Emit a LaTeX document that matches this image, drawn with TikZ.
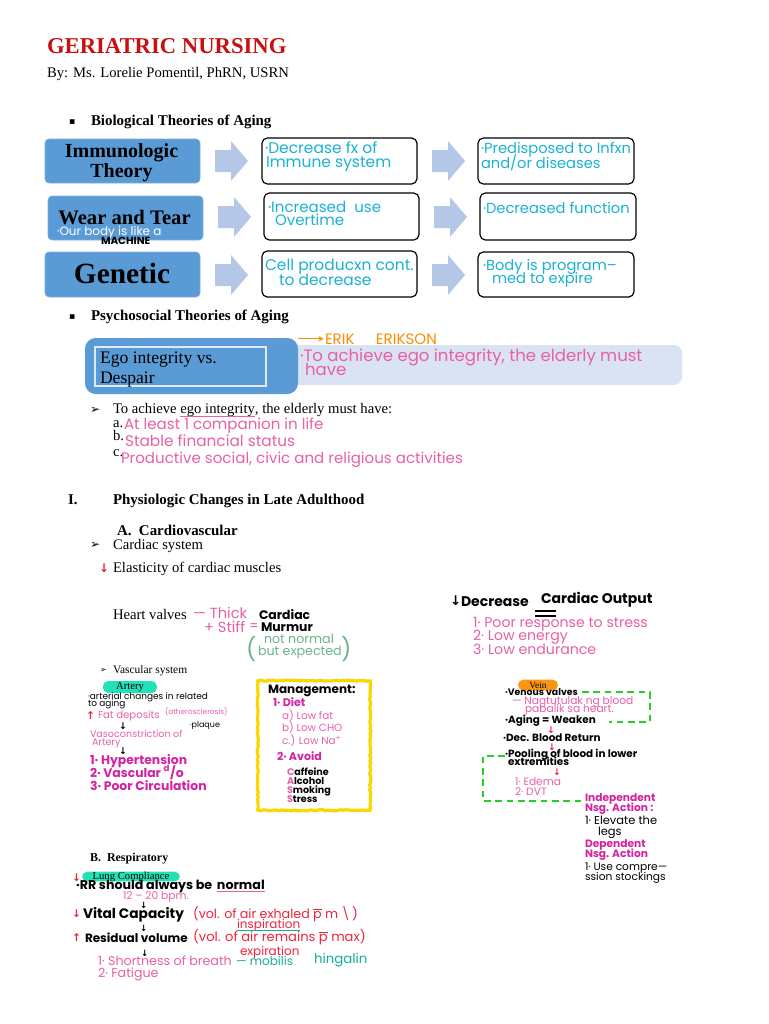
\documentclass[tikz,border=0pt]{standalone}
\usepackage{fontspec}
\setmainfont{Liberation Serif}
\newfontfamily\hwf{Poppins}
\newfontfamily\symf{DejaVu Sans}
\usetikzlibrary{arrows.meta,decorations.pathmorphing}
\definecolor{titred}{RGB}{200,16,16}
\definecolor{boxblue}{RGB}{91,155,213}
\definecolor{arrblue}{RGB}{180,199,231}
\definecolor{cyanw}{RGB}{25,178,210}
\definecolor{pinkw}{RGB}{232,96,165}
\definecolor{magw}{RGB}{210,35,160}
\definecolor{redw}{RGB}{240,35,60}
\definecolor{orw}{RGB}{255,140,0}
\definecolor{greenw}{RGB}{110,180,135}
\definecolor{tealpill}{RGB}{35,225,180}
\definecolor{tealw}{RGB}{20,175,150}
\definecolor{yelw}{RGB}{250,215,0}
\definecolor{dgreen}{RGB}{40,205,40}
\definecolor{lightbg}{RGB}{218,227,241}
\definecolor{orpill}{RGB}{250,150,20}
\newcommand\mypbar{\leavevmode\vbox{\hrule height 0.7pt\kern0.8pt\hbox{p}}}
\begin{document}
\begin{tikzpicture}[x=0.75pt,y=-0.75pt,
  tx/.style={anchor=base west,inner sep=0pt,outer sep=0pt},
  ser/.style={tx,font=\fontsize{11}{12}\selectfont},
  serb/.style={tx,font=\bfseries\fontsize{#1}{#1}\selectfont},
  hw/.style={tx,font=\hwf\fontsize{#1}{#1}\selectfont},
  hwb/.style={tx,font=\hwf\bfseries\fontsize{#1}{#1}\selectfont},
  sym/.style={tx,font=\symf\bfseries\fontsize{#1}{#1}\selectfont},
  bbox/.style={fill=boxblue,draw=boxblue!80!white,rounded corners=3pt,minimum width=116.25pt,minimum height=33pt,inner sep=0pt},
  wbox/.style={fill=white,draw=black,line width=0.9pt,rounded corners=4pt,minimum width=116.25pt,minimum height=34.5pt,inner sep=0pt},
  blk/.pic={\fill[arrblue] (0,-11) -- (16,-11) -- (16,-20) -- (33,0) -- (16,20) -- (16,11) -- (0,11) -- cycle;},
  dsh/.style={dgreen,line width=1.4pt,dash pattern=on 5pt off 3.5pt},
  pill/.style={rounded corners=4pt,inner sep=0pt,font=\fontsize{8}{8}\selectfont},
]
\useasboundingbox (0,0) rectangle (768,1024);
\fill[white] (0,0) rectangle (768,1024);

% ---- header
\node[serb=17,text=titred] (title) at (47,54) {GERIATRIC NURSING};
\node[tx,font=\fontsize{11}{12}\selectfont] (by) at (47,78) {By: Ms. Lorelie Pomentil, PhRN, USRN};
\node[sym=7] (bul1) at (69,124) {\mdseries ▪};
\node[serb=11.2] (bio) at (91,125) {Biological Theories of Aging};

% ---- biological boxes
\node[bbox] (r1) at (122.5,161) {};
\node[bbox] (r2) at (125.5,218) {};
\node[bbox,minimum height=33.75pt] (r3) at (122.5,274.5) {};
\node[anchor=base,inner sep=0pt,font=\bfseries\fontsize{15}{15}\selectfont] (imm1) at (121.5,157) {Immunologic};
\node[anchor=base,inner sep=0pt,font=\bfseries\fontsize{15}{15}\selectfont] (imm2) at (121.5,177) {Theory};
\node[anchor=base,inner sep=0pt,font=\bfseries\fontsize{15.5}{15}\selectfont] (wt) at (124.5,224) {Wear and Tear};
\node[hw=9,text=white] (ob) at (57,235) {·Our body is like a};
\node[hwb=7.8] (mach) at (101,244) {MACHINE};
\node[anchor=base,inner sep=0pt,font=\bfseries\fontsize{22}{22}\selectfont] (gen) at (122,283) {Genetic};

\node[wbox] (b12) at (339.5,161) {};
\node[wbox,minimum width=117pt] (b13) at (556,161) {};
\node[wbox,minimum height=35.25pt] (b22) at (341.5,216.5) {};
\node[wbox,minimum width=117pt,minimum height=35.25pt] (b23) at (558,216.5) {};
\node[wbox] (b32) at (339.5,274) {};
\node[wbox,minimum width=117pt,minimum height=33.75pt] (b33) at (556,274.5) {};

\pic (a11) at (215,161) {blk};
\pic (a12) at (432,161) {blk};
\pic (a21) at (218,217) {blk};
\pic (a22) at (434,217) {blk};
\pic (a31) at (215,275) {blk};
\pic (a32) at (432,275) {blk};

\node[hw=11.6,text=cyanw] (c121) at (265,153) {·Decrease fx of};
\node[hw=11.6,text=cyanw] (c122) at (266,167) {Immune system};
\node[hw=11,text=cyanw] (c131) at (481,153) {·Predisposed to Infxn};
\node[hw=11,text=cyanw] (c132) at (481,168) {and/or diseases};
\node[hw=11.3,text=cyanw] (c221) at (268,212) {·Increased\ \ use};
\node[hw=11.3,text=cyanw] (c222) at (275,225) {Overtime};
\node[hw=11,text=cyanw] (c231) at (483,213) {·Decreased function};
\node[hw=11.6,text=cyanw] (c321) at (265,270) {Cell producxn cont.};
\node[hw=11.6,text=cyanw] (c322) at (279,285) {to decrease};
\node[hw=11,text=cyanw] (c331) at (483,270) {·Body is program–};
\node[hw=11,text=cyanw] (c332) at (492,283) {med to expire};

% ---- psychosocial
\node[sym=7] (bul2) at (69,319) {\mdseries ▪};
\node[serb=11.2] (psy) at (91,320) {Psychosocial Theories of Aging};
\node[fill=lightbg,rounded corners=6pt,minimum width=297.75pt,minimum height=30pt,inner sep=0pt] (ebg) at (483.5,365) {};
\node[fill=boxblue,rounded corners=8pt,minimum width=159.75pt,minimum height=42pt,inner sep=0pt] (ego) at (191.5,366) {};
\node[draw=white!80!boxblue,line width=1.2pt,minimum width=128.25pt,minimum height=29.25pt,inner sep=0pt] (egoin) at (180.5,366.5) {};
\node[tx,font=\fontsize{13.2}{14}\selectfont] (ego1) at (100,363) {Ego integrity vs.};
\node[tx,font=\fontsize{13.2}{14}\selectfont] (ego2) at (100,383) {Despair};
\node[hw=12.4,text=pinkw] (egop1) at (300,361) {·To achieve ego integrity, the elderly must};
\node[hw=12.4,text=pinkw] (egop2) at (305,375) {have};
\node[hw=11.3,text=orw] (erik) at (325,344) {ERIK\hspace{16pt}ERIKSON};
\draw[orw,line width=1pt,-{Stealth[length=4pt,width=4pt]}] (ego.north east |- erik.west) -- ([xshift=-1pt]erik.west);

\node[tx,font=\symf\fontsize{9}{9}\selectfont] (arr1) at (90,413) {➢};
\node[ser] (ta1) at (113,413) {To achieve};
\node[ser] (ta2) at ([xshift=2.75pt]ta1.base east) {ego integrity};
\node[ser] (ta3) at (ta2.base east) {, the elderly must have:};
\draw[pinkw,line width=0.6pt] ([yshift=-2.5pt]ta2.base west) -- ([yshift=-2.5pt]ta2.base east);
\node[ser] (la) at (113,427) {a.};
\node[hw=11.3,text=pinkw] (pa) at (124,429) {At least 1 companion in life};
\node[ser] (lb) at (113,440) {b.};
\node[hw=11.5,text=pinkw] (pb) at (125,446) {Stable financial status};
\node[ser] (lc) at (113,456) {c.};
\node[hw=11.3,text=pinkw] (pc) at (121,463) {Productive social, civic and religious activities};

% ---- physiologic
\node[serb=11.2] (s1) at (68,504) {I.};
\node[serb=11.2] (s1t) at (113,504) {Physiologic Changes in Late Adulthood};
\node[serb=11.2] (sA) at (117,535) {A.\ \ Cardiovascular};
\node[tx,font=\symf\fontsize{9}{9}\selectfont] (arr2) at (90,548) {➢};
\node[ser] (cs) at (113,549) {Cardiac system};
\node[sym=9,text=redw] (dn1) at (99,572) {↓};
\node[ser] (el) at (113,572) {Elasticity of cardiac muscles};

\node[ser] (hv) at (113,619) {Heart valves};
\node[hw=11,text=pinkw] (thick) at (193,618) {— Thick};
\node[hw=11,text=pinkw] (stiff) at (204,632) {+ Stiff};
\node[hw=10,text=pinkw] (eq1) at (249,630) {=};
\node[hwb=9.3] (card) at (259,619) {Cardiac};
\node[hwb=9.3] (murm) at (261,631) {Murmur};
\node[hw=17,text=greenw] (pl) at (246,657) {(};
\node[hw=9.5,text=greenw] (nn) at (264,643) {not normal};
\node[hw=9.5,text=greenw] (be) at (258,655) {but expected};
\node[hw=17,text=greenw] (pr) at (341,657) {)};

\node[sym=10] (dn2) at (450,605) {↓};
\node[hwb=10.5] (dec) at (461,606) {Decrease};
\node[hwb=10.5] (co) at (541,603) {Cardiac Output};
\draw[line width=1.3pt] (535,611) -- (556,611) (535,616) -- (556,616);
\node[hw=10.6,text=pinkw] (co1) at (473,627) {1· Poor response to stress};
\node[hw=10.6,text=pinkw] (co2) at (473,640) {2· Low energy};
\node[hw=10.6,text=pinkw] (co3) at (473,654) {3· Low endurance};

% ---- vascular / artery
\node[tx,font=\symf\fontsize{6}{6}\selectfont] (arr3) at (100,672) {➢};
\node[tx,font=\fontsize{8.6}{9}\selectfont] (vs) at (113,673) {Vascular system};
\node[pill,fill=tealpill,minimum width=40.5pt,minimum height=9pt] (artp) at (130,687) {Artery};
\node[hw=6.7] (ac1) at (88,699) {·arterial changes in related};
\node[hw=6.7] (ac2) at (88,706) {to aging};
\node[sym=8,text=redw] (up1) at (86,719) {↑};
\node[hw=7.6,text=pinkw] (fd) at (98,718) {Fat deposits};
\node[hw=5.5,text=pinkw] (ath) at (165,714) {(atherosclerosis)};
\node[hw=6] (plq) at (190,727) {·plaque};
\node[sym=7] (dn3) at (119,729) {↓};
\node[hw=7.2,text=pinkw] (vc1) at (90,737) {Vasoconstriction of};
\node[hw=7.2,text=pinkw] (vc2) at (92,745) {Artery};
\node[sym=7] (dn4) at (119,754) {↓};
\node[hwb=9.3,text=magw] (h1) at (90,764) {1· Hypertension};
\node[hwb=9.3,text=magw] (h2) at (90,777) {2· Vascular \textsuperscript{d}/o};
\node[hwb=9.3,text=magw] (h3) at (90,790) {3· Poor Circulation};

% ---- management
\node[minimum width=84pt,minimum height=96.75pt,inner sep=0pt] (mg) at (314,745.5) {};
\draw[yelw,line width=2.4pt,line join=round,decorate,decoration={random steps,segment length=2pt,amplitude=0.45pt}] (mg.north west) -- (mg.north east) -- (mg.south east) -- (mg.south west) -- cycle;
\node[hwb=9] (mgt) at (268,693) {Management:};
\node[hwb=8.3,text=magw] (m1) at (273,706) {1· Diet};
\node[hw=7.8,text=pinkw] (m1a) at (282,719) {a) Low fat};
\node[hw=7.8,text=pinkw] (m1b) at (282,731) {b) Low CHO};
\node[hw=7.8,text=pinkw] (m1c) at (282,744) {c.) Low Na\textsuperscript{+}};
\node[hwb=8.3,text=magw] (m2) at (277,760) {2· Avoid};
\node[hwb=7.2] (ca1) at (287,775) {{\color{pinkw}C}affeine};
\node[hwb=7.2] (ca2) at (287,784) {{\color{pinkw}A}lcohol};
\node[hwb=7.2] (ca3) at (287,793) {{\color{pinkw}S}moking};
\node[hwb=7.2] (ca4) at (287,802) {{\color{pinkw}S}tress};

% ---- vein
\node[pill,fill=orpill,minimum width=30pt,minimum height=8pt,font=\fontsize{7}{7}\selectfont] (vp) at (538,685) {Vein};
\node[hwb=7] (v1) at (505,695.5) {·Venous valves};
\node[hw=8,text=pinkw] (v2) at (512,704) {— Nagtutulak ng blood};
\node[hw=8,text=pinkw] (v3) at (525,712) {pabalik sa heart.};
\node[hwb=7.8] (v4) at (505,723) {·Aging = Weaken};
\node[sym=7,text=redw] (dn5) at (547,733) {↓};
\node[hwb=7.8] (v5) at (503,741) {·Dec. Blood Return};
\node[sym=7,text=redw] (dn6) at (548,750) {↓};
\node[hwb=7.8] (v6) at (505,757) {·Pooling of blood in lower};
\node[hwb=7.8] (v7) at (508,765.5) {extremities};
\node[sym=7,text=redw] (dn7) at (553,775) {↓};
\node[hw=8,text=pinkw] (v8) at (515,785) {1· Edema};
\node[hw=8,text=pinkw] (v9) at (515,795) {2· DVT};
\draw[dsh] (582,692) -- (650,692) -- (650,722) -- (609,722);
\draw[dsh] (505,756) -- (483,756) -- (483,801) -- (582,801);
\node[hwb=8,text=magw] (in1) at (585,801) {Independent};
\node[hwb=8,text=magw] (in2) at (585,811) {Nsg. Action :};
\node[hw=8.6] (in3) at (585,824) {1· Elevate the};
\node[hw=8.6] (in4) at (598,835) {legs};
\node[hwb=8,text=magw] (de1) at (585,847) {Dependent};
\node[hwb=8,text=magw] (de2) at (585,857) {Nsg. Action};
\node[hw=8] (de3) at (585,870) {1· Use compre—};
\node[hw=8] (de4) at (585,880) {ssion stockings};

% ---- respiratory
\node[serb=9] (sB) at (90,861) {B.\ \ Respiratory};
\node[pill,fill=tealpill,minimum width=73.5pt,minimum height=7pt] (lc) at (131,876.5) {Lung Compliance};
\node[sym=8,text=redw] (dn8) at (72,881) {↓};
\node[hwb=9.5] (rr) at (76,889) {·RR should always be};
\node[hwb=9.5] (rrn) at ([xshift=3.5pt]rr.base east) {normal};
\draw[pinkw,line width=0.8pt] ([yshift=-2pt]rrn.base west) -- ([yshift=-2pt]rrn.base east);
\node[hw=8,text=pinkw] (bpm) at (123,899) {12 – 20 bpm.};
\node[sym=6.5] (dn9) at (140,908.5) {↓};
\node[sym=8,text=redw] (dn10) at (72,917) {↓};
\node[hwb=10.3] (vcap) at (83,918) {Vital Capacity};
\node[hw=9.5,text=redw] (vcd) at (193,918) {(vol. of air exhaled \mypbar\ m \textbackslash\,)};
\node[hw=9,text=redw] (insp) at (237,928) {inspiration};
\draw[tealw,line width=0.8pt] ([yshift=-2pt]insp.base west) -- ([yshift=-2pt]insp.base east);
\node[sym=6.5] (dn11) at (140,931.5) {↓};
\node[sym=8,text=redw] (up2) at (72,941) {↑};
\node[hwb=9] (resv) at (85,942) {Residual volume};
\node[hw=9.8,text=redw] (rvd) at (193,941) {(vol. of air remains \mypbar\ max)};
\node[hw=9,text=redw] (exp) at (240,955) {expiration};
\node[sym=6.5] (dn12) at (141,956) {↓};
\node[hw=9.5,text=pinkw] (sob) at (98,965.5) {1· Shortness of breath};
\node[hw=9,text=tealw] (mob) at (236,965.5) {— mobilis};
\node[hw=10,text=tealw] (hin) at (314,963) {hingalin};
\node[hw=9.5,text=pinkw] (fat) at (98,977.5) {2· Fatigue};
\end{tikzpicture}
\end{document}
